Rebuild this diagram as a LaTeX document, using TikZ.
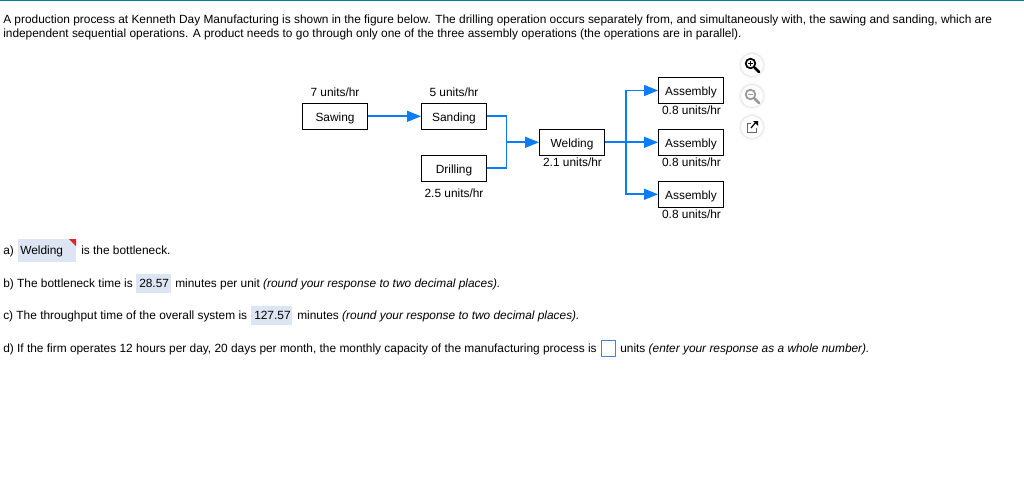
\documentclass[tikz,border=0pt]{standalone}
\usepackage{fontspec}
\setmainfont{Liberation Sans}
\usetikzlibrary{arrows.meta,calc}
\definecolor{flow}{HTML}{0A7CF5}
\definecolor{answer}{HTML}{DDE5F3}
\definecolor{tealbar}{HTML}{007FA3}
\definecolor{inputblue}{HTML}{4F7FD0}
\definecolor{flag}{HTML}{D9262B}
\tikzset{
  txt/.style={inner sep=0pt,anchor=base west,font=\fontsize{8.92pt}{10pt}\selectfont,text=black},
  lbl/.style={inner sep=0pt,anchor=base,font=\fontsize{8.92pt}{10pt}\selectfont,text=black},
  opbox/.style={draw=black,line width=0.75pt,fill=white,minimum width=48.5pt,minimum height=19.2pt,inner sep=0pt,text height=8.4pt,text depth=0.8pt,font=\fontsize{8.92pt}{10pt}\selectfont,text=black},
  flowline/.style={draw=flow,line width=1.4pt},
  flowarrow/.style={flowline,-{Triangle[length=10.5pt,width=8pt,fill=flow]}},
  ansbox/.style={fill=answer,draw=none},
  iconball/.style={circle,fill=white,draw=none,minimum size=16.5pt,inner sep=0pt},
  iconhalo/.style={circle,fill=black,fill opacity=0.03,draw=none,inner sep=0pt},
}
\begin{document}
\begin{tikzpicture}[x=0.75pt,y=-0.75pt]
\useasboundingbox (0,0) rectangle (1024,494);
\fill[white] (0,0) rectangle (1024,494);
\fill[tealbar] (0,0) rectangle (1024,1.4);

% question text
\node[txt] (q1) at (3,23) {A production process at Kenneth Day Manufacturing is shown in the figure below. The drilling operation occurs separately from, and simultaneously with, the sawing and sanding, which are};
\node[txt] (q2) at (3,37) {independent sequential operations. A product needs to go through only one of the three assembly operations (the operations are in parallel).};

% process boxes
\node[opbox] (saw) at (335,116.3) {Sawing};
\node[opbox] (sand) at (454,116.3) {Sanding};
\node[opbox] (drill) at (454,168.3) {Drilling};
\node[opbox] (weld) at (572,142.3) {Welding};
\node[opbox] (as1) at (691,90.5) {Assembly};
\node[opbox] (as2) at (691,142.3) {Assembly};
\node[opbox] (as3) at (691,194.3) {Assembly};

% rates
\node[lbl] (r1) at (335,96) {7 units/hr};
\node[lbl] (r2) at (454,96) {5 units/hr};
\node[lbl] (r3) at (454,197) {2.5 units/hr};
\node[lbl] (r4) at (572.5,166) {2.1 units/hr};
\node[lbl] (r5) at (691.5,114) {0.8 units/hr};
\node[lbl] (r6) at (691.5,166) {0.8 units/hr};
\node[lbl] (r7) at (691.5,218) {0.8 units/hr};

% connectors
\coordinate (j1) at (506.5,142.3);
\coordinate (j2) at (625.7,142.3);
\draw[flowarrow] (saw.east) -- (sand.west);
\draw[flowline] (sand.east) -| (j1);
\draw[flowline] (drill.east) -| (j1);
\draw[flowarrow] (j1) -- (weld.west);
\draw[flowline] (weld.east) -- (j2);
\draw[flowarrow] (j2) -- (as2.west);
\draw[flowarrow] (j2) |- (as1.west);
\draw[flowarrow] (j2) |- (as3.west);

% icons
\foreach \c in {65,96,127}{
  \node[iconhalo,minimum size=20pt] at (752,\c) {};
  \node[iconhalo,minimum size=18.5pt] at (752,\c) {};
  \node[iconhalo,minimum size=17.5pt] at (752,\c) {};
}
\node[iconball] (zin) at (752,65) {};
\node[iconball] (zout) at (752,96) {};
\node[iconball] (ext) at (752,127) {};
\draw[black,line width=1.3pt] ($(zin)+(-1.5,-1.5)$) circle[radius=4.8];
\draw[black,line width=2pt,line cap=round] ($(zin)+(2.5,2.5)$) -- ($(zin)+(7,7)$);
\draw[black,line width=0.9pt] ($(zin)+(-4,-1.5)$) -- ($(zin)+(1,-1.5)$) ($(zin)+(-1.5,-4)$) -- ($(zin)+(-1.5,1)$);
\draw[black!40,line width=1.3pt] ($(zout)+(-1.5,-1.5)$) circle[radius=4.8];
\draw[black!40,line width=2pt,line cap=round] ($(zout)+(2.5,2.5)$) -- ($(zout)+(7,7)$);
\draw[black!40,line width=0.9pt] ($(zout)+(-4,-1.5)$) -- ($(zout)+(1,-1.5)$);
\draw[black!60,line width=0.7pt] ($(ext)+(-1,-4)$) -- ($(ext)+(-5,-4)$) -- ($(ext)+(-5,5)$) -- ($(ext)+(4,5)$) -- ($(ext)+(4,1)$);
\draw[black,line width=0.9pt] ($(ext)+(-1,1)$) -- ($(ext)+(4,-5)$);
\fill[black] ($(ext)+(1,-6)$) -- ($(ext)+(6,-6)$) -- ($(ext)+(6,-1)$) -- cycle;

% answers
\fill[ansbox] (18,239) rectangle (76,262);
\fill[flag] (69,239) -- (76,239) -- (76,246) -- cycle;
\fill[ansbox] (136,274) rectangle (171,293);
\fill[ansbox] (251,306) rectangle (292,325);
\node[txt] (a1) at (3,254.5) {a)};
\node[txt] (a2) at (20,254.5) {Welding};
\node[txt] (a3) at (81,254.5) {is the bottleneck.};
\node[txt] (b1) at (3,287.5) {b) The bottleneck time is};
\node[txt] (b2) at (139,287.5) {28.57};
\node[txt] (b3) at (175,287.5) {minutes per unit \textit{(round your response to two decimal places).}};
\node[txt] (c1) at (3,319.5) {c) The throughput time of the overall system is};
\node[txt] (c2) at (254,319.5) {127.57};
\node[txt] (c3) at (297,319.5) {minutes \textit{(round your response to two decimal places).}};
\node[txt] (d1) at (3,352.5) {d) If the firm operates 12 hours per day, 20 days per month, the monthly capacity of the manufacturing process is};
\draw[inputblue,line width=0.75pt,fill=white] (601.5,340.5) rectangle (615,356.5);
\node[txt] (d2) at (620,352.5) {units \textit{(enter your response as a whole number).}};
\end{tikzpicture}
\end{document}
